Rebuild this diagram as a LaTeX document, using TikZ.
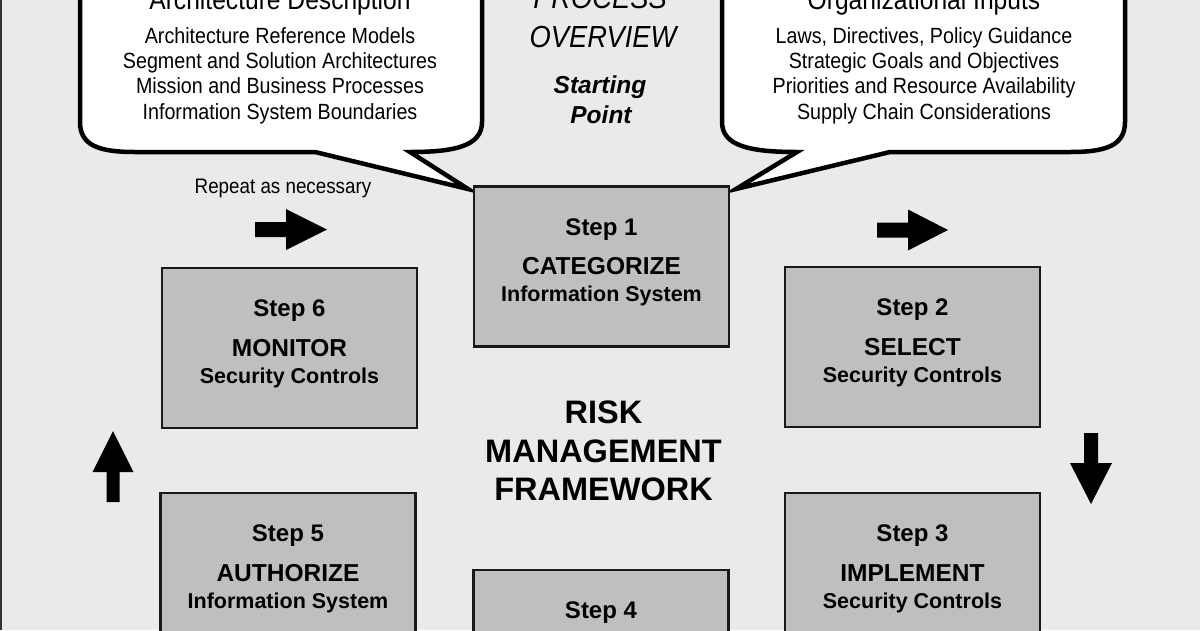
\documentclass[tikz,border=0pt]{standalone}
\usepackage{fontspec}
\setmainfont{Liberation Sans}
\newfontfamily\narrowfont[FakeStretch=0.895]{Liberation Sans}
\usepackage{xcolor}
\usepackage{tikz}
\usetikzlibrary{calc, positioning}

\definecolor{bggray}{HTML}{EAEAEA}
\definecolor{boxgray}{HTML}{BFBFBF}

\begin{document}
\begin{tikzpicture}[x=1pt, y=-1pt,
    stepbox/.style={draw=black!90, line width=2.5pt, fill=boxgray, minimum width=255pt, minimum height=160pt, inner sep=0pt},
    steplbl/.style={anchor=base, font=\bfseries\fontsize{24}{28}\selectfont},
    stepname/.style={anchor=base, font=\bfseries\fontsize{24.5}{28}\selectfont},
    stepsub/.style={anchor=base, font=\bfseries\fontsize{21.5}{26}\selectfont},
    callout/.style={draw=black, line width=4.5pt, fill=white},
    calltitle/.style={anchor=base, font=\narrowfont\fontsize{27.5}{32}\selectfont},
    callitem/.style={anchor=base, font=\narrowfont\fontsize{22}{26}\selectfont},
    rmftext/.style={anchor=base, font=\bfseries\fontsize{32.5}{36}\selectfont}]

    % =================================================================
    % 1. BACKGROUND AND FRAME
    % =================================================================
    \useasboundingbox (0,0) rectangle (1200,630);
    \clip (0,0) rectangle (1200,630);
    \fill[bggray] (0,0) rectangle (1200,630);
    \draw[line width=2pt, black!80] (1,0) -- (1,630);

    % =================================================================
    % 2. SPEECH BUBBLES (top edge runs out of the picture)
    % =================================================================
    % Left bubble: architecture description
    \draw[callout] (80,-30) -- (80,122) .. controls (80,146) and (100,152) .. (135,152) -- (315,152) -- (468,189) -- (410,152) .. controls (455,152) and (482,146) .. (482,122) -- (482,-30);

    % Right bubble: organizational inputs
    \draw[callout] (722,-30) -- (722,122) .. controls (722,146) and (750,152) .. (797,152) -- (736,189) -- (890,152) -- (1070,152) .. controls (1105,152) and (1125,146) .. (1125,122) -- (1125,-30);

    % --- Bubble texts ---
    \node[calltitle] (archtitle) at (280,9) {Architecture Description};
    \node[callitem] (arch1) at (280,43) {Architecture Reference Models};
    \node[callitem] (arch2) at (280,68) {Segment and Solution Architectures};
    \node[callitem] (arch3) at (280,93.5) {Mission and Business Processes};
    \node[callitem] (arch4) at (280,119) {Information System Boundaries};

    \node[calltitle] (orgtitle) at (924,9) {Organizational Inputs};
    \node[callitem] (org1) at (924,43) {Laws, Directives, Policy Guidance};
    \node[callitem] (org2) at (924,68) {Strategic Goals and Objectives};
    \node[callitem] (org3) at (924,93.5) {Priorities and Resource Availability};
    \node[callitem] (org4) at (924,119) {Supply Chain Considerations};

    % --- Process overview in the middle ---
    \node[anchor=base, font=\narrowfont\itshape\fontsize{30.5}{34}\selectfont] (process) at (600,8) {PROCESS};
    \node[anchor=base, font=\narrowfont\itshape\fontsize{30.5}{34}\selectfont] (overview) at (603,47) {OVERVIEW};
    \node[anchor=base, font=\bfseries\itshape\fontsize{24.5}{28}\selectfont] (starting) at (600,93) {Starting};
    \node[anchor=base, font=\bfseries\itshape\fontsize{24.5}{28}\selectfont] (point) at (601,123) {Point};

    % =================================================================
    % 3. THE SIX STEPS
    % =================================================================
    \node[stepbox] (step1) at (601.5,266.5) {};
    \node[stepbox] (step2) at (912.5,347) {};
    \node[stepbox] (step3) at (912.5,573) {};
    \node[stepbox] (step4) at (601,650) {};
    \node[stepbox] (step5) at (288,573) {};
    \node[stepbox] (step6) at (289.5,348) {};

    \node[steplbl] (s1a) at ($(step1.north)+(0,50)$) {Step 1};
    \node[stepname] (s1b) at ($(step1.north)+(0,89.5)$) {CATEGORIZE};
    \node[stepsub] (s1c) at ($(step1.north)+(0,116.5)$) {Information System};

    \node[steplbl] (s2a) at ($(step2.north)+(0,50)$) {Step 2};
    \node[stepname] (s2b) at ($(step2.north)+(0,89.5)$) {SELECT};
    \node[stepsub] (s2c) at ($(step2.north)+(0,116.5)$) {Security Controls};

    \node[steplbl] (s3a) at ($(step3.north)+(0,50)$) {Step 3};
    \node[stepname] (s3b) at ($(step3.north)+(0,89.5)$) {IMPLEMENT};
    \node[stepsub] (s3c) at ($(step3.north)+(0,116.5)$) {Security Controls};

    \node[steplbl] (s4a) at ($(step4.north)+(0,50)$) {Step 4};

    \node[steplbl] (s5a) at ($(step5.north)+(0,50)$) {Step 5};
    \node[stepname] (s5b) at ($(step5.north)+(0,89.5)$) {AUTHORIZE};
    \node[stepsub] (s5c) at ($(step5.north)+(0,116.5)$) {Information System};

    \node[steplbl] (s6a) at ($(step6.north)+(0,50)$) {Step 6};
    \node[stepname] (s6b) at ($(step6.north)+(0,89.5)$) {MONITOR};
    \node[stepsub] (s6c) at ($(step6.north)+(0,116.5)$) {Security Controls};

    % Title in the centre of the cycle
    \node[rmftext] (risk) at (603.5,423) {RISK};
    \node[rmftext] (mgmt) at (603.5,462) {MANAGEMENT};
    \node[rmftext] (frame) at (603.5,500) {FRAMEWORK};

    % =================================================================
    % 4. BLOCK ARROWS AROUND THE CYCLE
    % =================================================================
    \node[anchor=base, font=\narrowfont\fontsize{21}{25}\selectfont] (repeat) at (283,193) {Repeat as necessary};

    % right, top left
    \fill (255,222) -- (286,222) -- (286,209) -- (327,229.5) -- (286,250) -- (286,237) -- (255,237) -- cycle;
    % right, top right
    \fill (877,222.5) -- (908,222.5) -- (908,209.5) -- (948,230) -- (908,250.5) -- (908,237.5) -- (877,237.5) -- cycle;
    % down, right side
    \fill (1084,433) -- (1084,463) -- (1070,463) -- (1091,504) -- (1112,463) -- (1098,463) -- (1098,433) -- cycle;
    % up, left side
    \fill (106.5,502) -- (106.5,472) -- (92.5,472) -- (113,431) -- (133.5,472) -- (119.5,472) -- (119.5,502) -- cycle;

\end{tikzpicture}
\end{document}
